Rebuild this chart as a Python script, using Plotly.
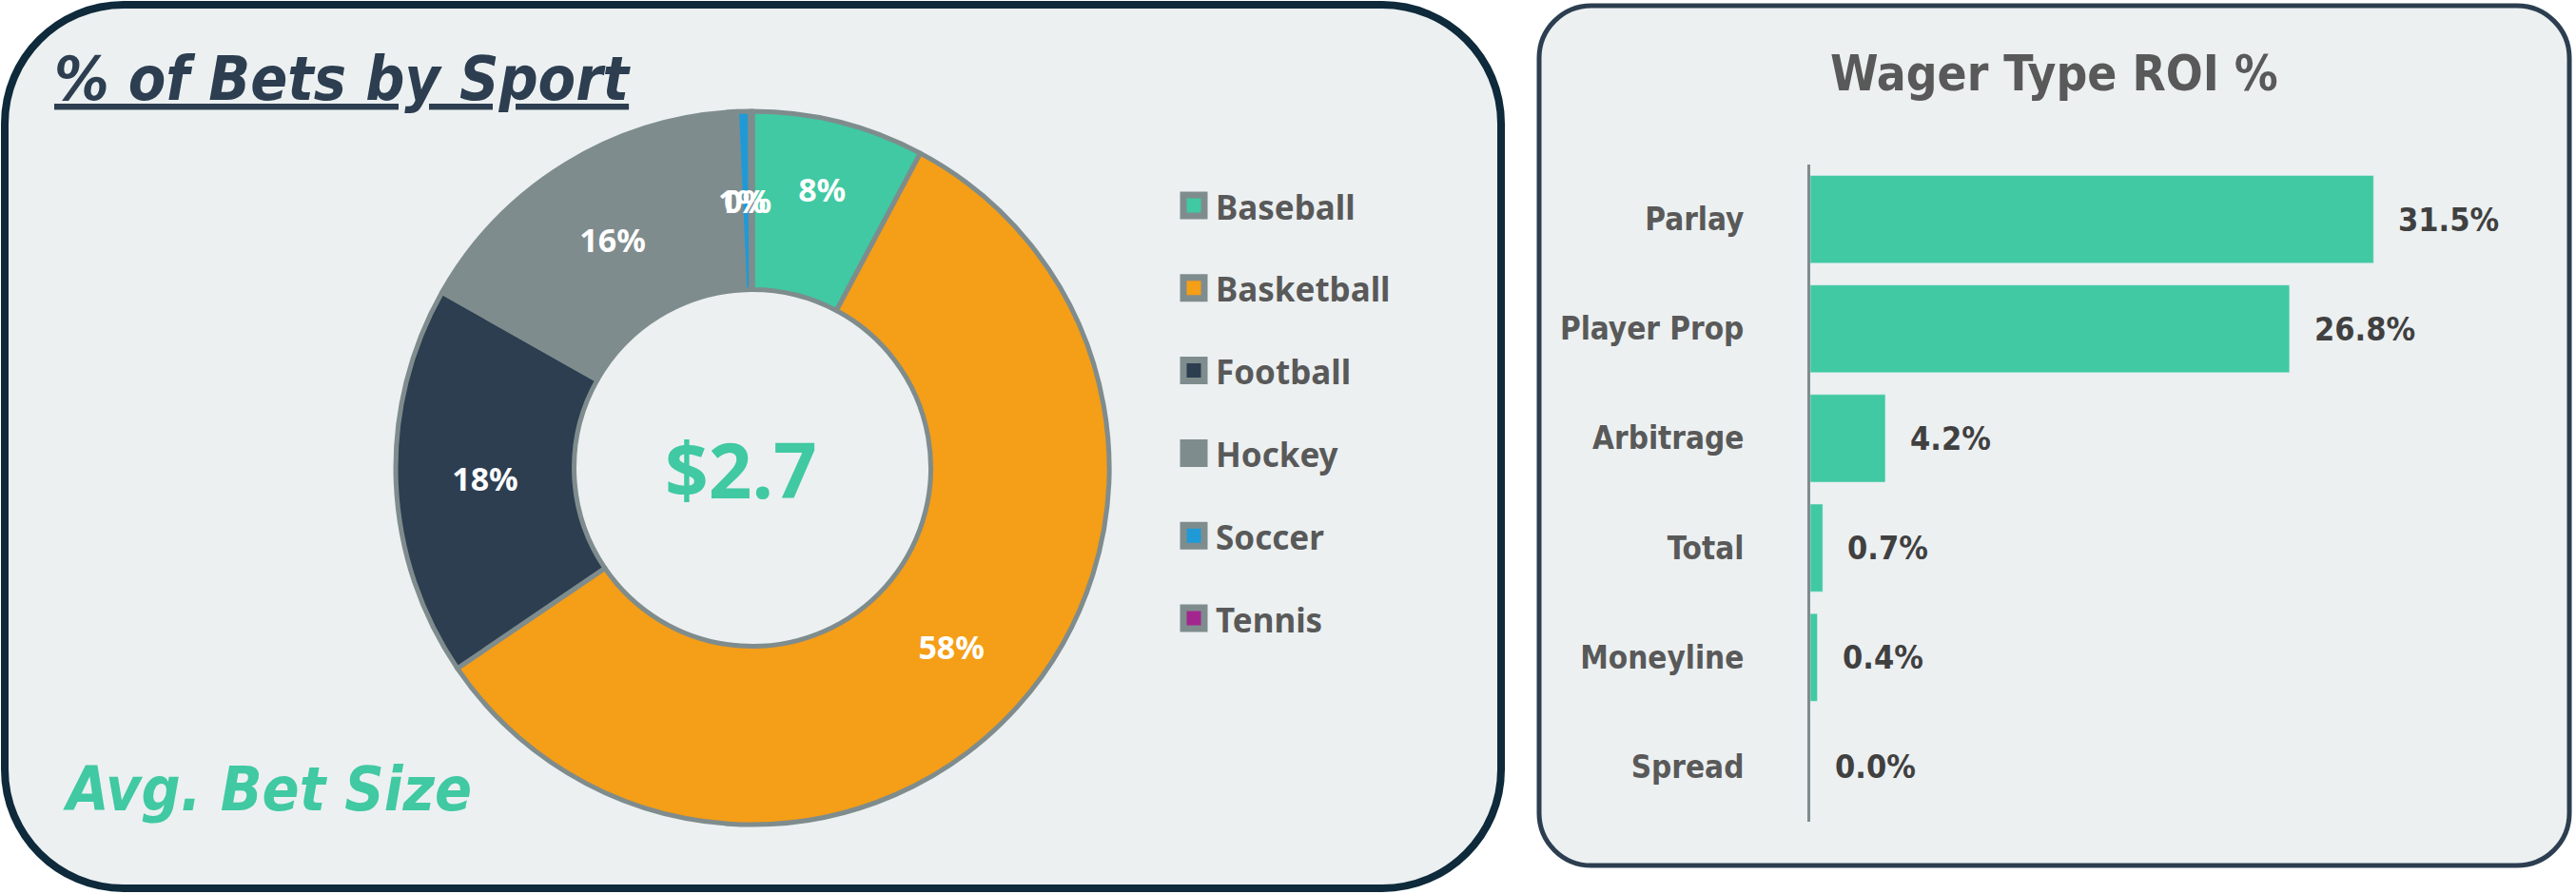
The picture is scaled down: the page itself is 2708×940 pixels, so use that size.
import math
import plotly.graph_objects as go

W, H = 2708, 940

# ---- data ----
sports = ["Baseball", "Basketball", "Football", "Hockey", "Soccer", "Tennis"]
sport_share = [7.8, 57.7, 17.7, 16.1, 0.6, 0.1]
sport_colors = ["#40c9a2", "#f59e17", "#2c3e50", "#7f8c8d", "#1f9ad6", "#a3268f"]
avg_bet_size = 2.7

wager_types = ["Parlay", "Player Prop", "Arbitrage", "Total", "Moneyline", "Spread"]
wager_roi = [31.5, 26.8, 4.2, 0.7, 0.4, 0.0]

COND = "DejaVu Sans Condensed, Liberation Sans Narrow, Roboto, sans-serif"


def px(x):
    return x / W


def py(y):
    return 1 - y / H


def rrect(x0, y0, x1, y1, r):
    k = 0.5523 * r
    pts = [
        ("M", [(x0 + r, y0)]),
        ("L", [(x1 - r, y0)]),
        ("C", [(x1 - r + k, y0), (x1, y0 + r - k), (x1, y0 + r)]),
        ("L", [(x1, y1 - r)]),
        ("C", [(x1, y1 - r + k), (x1 - r + k, y1), (x1 - r, y1)]),
        ("L", [(x0 + r, y1)]),
        ("C", [(x0 + r - k, y1), (x0, y1 - r + k), (x0, y1 - r)]),
        ("L", [(x0, y0 + r)]),
        ("C", [(x0, y0 + r - k), (x0 + r - k, y0), (x0 + r, y0)]),
    ]
    s = ""
    for cmd, ps in pts:
        s += cmd + " ".join(f"{px(a):.5f},{py(b):.5f}" for a, b in ps) + " "
    return s + "Z"


fig = go.Figure()

# ---- donut ----
cx, cy, R, HOLE = 791, 492, 375, 0.5
total = sum(sport_share)
small = [v / total < 0.02 for v in sport_share]
fig.add_trace(go.Pie(
    labels=sports,
    values=sport_share,
    sort=False,
    direction="clockwise",
    rotation=0,
    hole=HOLE,
    marker=dict(colors=sport_colors, line=dict(color="#7f8c8d", width=5)),
    texttemplate=["" if s else "%{percent:.0%}" for s in small],
    textposition="inside",
    insidetextorientation="horizontal",
    textfont=dict(family="Noto Sans", size=34, color="white", weight="bold"),
    showlegend=False,
    domain=dict(x=[px(cx - R), px(cx + R)], y=[py(cy + R), py(cy - R)]),
))

# ---- bars ----
fig.add_trace(go.Bar(
    x=wager_roi,
    y=wager_types,
    orientation="h",
    marker=dict(color="#40c9a2"),
    width=0.8,
    showlegend=False,
    xaxis="x",
    yaxis="y",
))

shapes = [
    dict(type="path", path=rrect(5, 5, 1578, 934, 125), xref="paper", yref="paper",
         fillcolor="#ecf0f1", line=dict(color="#0e2a3b", width=8), layer="below"),
    dict(type="path", path=rrect(1618, 6, 2701, 910, 55), xref="paper", yref="paper",
         fillcolor="#ecf0f1", line=dict(color="#2c3e50", width=5), layer="below"),
]

annotations = [
    dict(text="<u>% of Bets by Sport</u>", x=px(55), y=py(83), xref="paper", yref="paper",
         xanchor="left", yanchor="middle", showarrow=False,
         font=dict(family=COND, size=64, color="#2c3e50", weight="bold", style="italic")),
    dict(text="Avg. Bet Size", x=px(64), y=py(830), xref="paper", yref="paper",
         xanchor="left", yanchor="middle", showarrow=False,
         font=dict(family=COND, size=64, color="#40c9a2", weight="bold", style="italic")),
    dict(text=f"${avg_bet_size:.1f}", x=px(779), y=py(cy), xref="paper", yref="paper",
         xanchor="center", yanchor="middle", showarrow=False,
         font=dict(family="Noto Sans", size=80, color="#40c9a2", weight="bold")),
    dict(text="Wager Type ROI %", x=px(2159), y=py(78), xref="paper", yref="paper",
         xanchor="center", yanchor="middle", showarrow=False,
         font=dict(family=COND, size=51, color="#595959", weight="bold")),
]

# labels of the thin slices, placed at the middle of the ring (as the reference does)
cum = 0.0
r_mid = R * (1 + HOLE) / 2
for v, s in zip(sport_share, small):
    mid = (cum + v / 2) / total
    cum += v
    if s:
        ang = 2 * math.pi * mid
        annotations.append(dict(text=f"{v / total * 100:.0f}%",
                                x=px(cx + r_mid * math.sin(ang) - 4), y=py(cy - r_mid * math.cos(ang)),
                                xref="paper", yref="paper", xanchor="center", yanchor="middle",
                                showarrow=False,
                                font=dict(family="Noto Sans", size=34, color="white", weight="bold")))

# custom legend
leg_x, leg_y0, leg_dy = 1255, 216, 86.8
for i, (name, col) in enumerate(zip(sports, sport_colors)):
    yy = leg_y0 + i * leg_dy
    shapes.append(dict(type="rect", xref="paper", yref="paper",
                       x0=px(leg_x - 11), x1=px(leg_x + 11), y0=py(yy + 11), y1=py(yy - 11),
                       fillcolor=col, line=dict(color="#7f8c8d", width=7)))
    annotations.append(dict(text=name, x=px(1276), y=py(yy + 1), xref="paper", yref="paper",
                            xanchor="left", yanchor="middle", showarrow=False,
                            font=dict(family="Noto Sans", size=35, color="#595959", weight="bold")))

# bar data labels
for name, v in zip(wager_types, wager_roi):
    annotations.append(dict(text=f"{v:.1f}%", x=v, y=name, xref="x", yref="y",
                            xanchor="left", yanchor="middle", xshift=24, showarrow=False,
                            font=dict(family=COND, size=34, color="#404040", weight="bold")))

fig.update_layout(
    width=W, height=H,
    margin=dict(l=0, r=0, t=0, b=0),
    paper_bgcolor="white",
    plot_bgcolor="rgba(0,0,0,0)",
    xaxis=dict(domain=[px(1903), px(2655)], range=[0, 40], visible=False, fixedrange=True),
    yaxis=dict(domain=[py(864), py(173)], type="category", categoryorder="array",
               categoryarray=wager_types, autorange="reversed",
               showline=True, linecolor="#7f8c8d", linewidth=3, showgrid=False, zeroline=False,
               ticks="", ticklabelstandoff=60,
               tickfont=dict(family=COND, size=33, color="#595959", weight="bold")),
    shapes=shapes,
    annotations=annotations,
)

fig.write_html("out.html", config={"displayModeBar": False},
               post_script="document.body.style.margin='0px';")
